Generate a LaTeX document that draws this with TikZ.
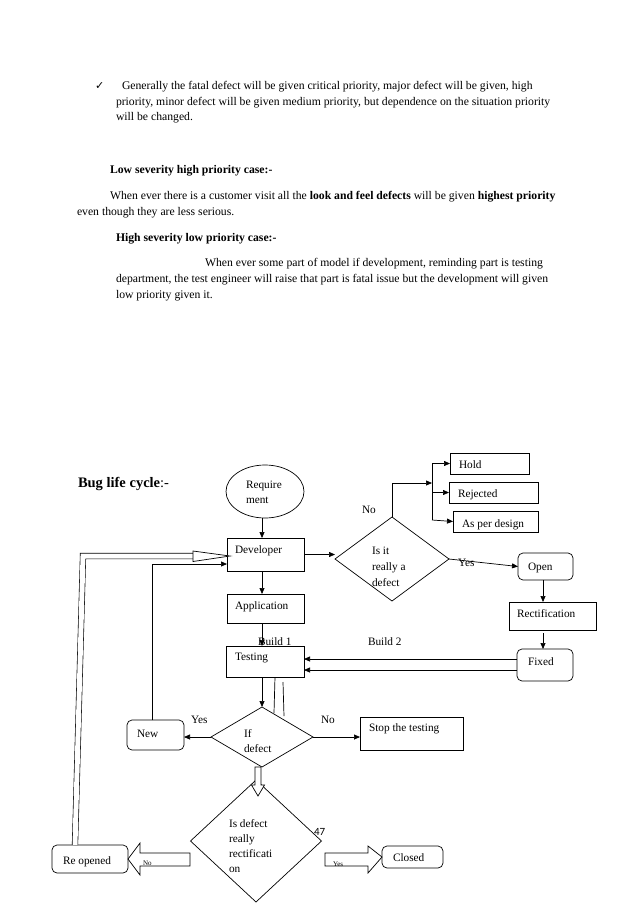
\documentclass[tikz,border=0pt]{standalone}
\usepackage{fontspec}
\setmainfont{Liberation Serif}
\newfontfamily\symfont{DejaVu Sans}
\newfontfamily\pagenumfont{Carlito}
\usetikzlibrary{shapes.geometric,arrows.meta}
\begin{document}
\begin{tikzpicture}[x=1pt,y=-1pt,
  every node/.style={inner sep=0pt, outer sep=0pt},
  body/.style={anchor=base west, font=\fontsize{11.7}{14}\selectfont},
  txt/.style={anchor=base west, font=\fontsize{11.3}{13}\selectfont},
  tiny/.style={anchor=base west, font=\fontsize{7}{8}\selectfont},
  box/.style={draw, line width=0.7pt},
  rbox/.style={box, rounded corners=5pt},
  dia/.style={draw, line width=0.7pt, diamond},
  arr/.style={line width=0.7pt, -{Triangle[length=6pt,width=5pt]}},
  ln/.style={line width=0.7pt},
  blk/.style={draw, line width=0.7pt, fill=white, line join=miter},
]
\fill[white] (0,0) rectangle (638,903);
\useasboundingbox (0,0) rectangle (638,903);

% ---------- body text ----------
\node[body] (ck) at (95,89) {{\symfont\fontsize{11}{12}\selectfont ✓}};
\node[body] (l1) at (122,89) {Generally the fatal defect will be given critical priority, major defect will be given, high};
\node[body] (l2) at (116,105) {priority, minor defect will be given medium priority, but dependence on the situation priority};
\node[body] (l3) at (116,120) {will be changed.};
\node[body] (h1) at (110,173) {\textbf{Low severity high priority case:-}};
\node[body] (l4) at (110,199) {When ever there is a customer visit all the \textbf{look and feel defects} will be given \textbf{highest priority}};
\node[body] (l5) at (77,215) {even though they are less serious.};
\node[body] (h2) at (116,241) {\textbf{High severity low priority case:-}};
\node[body] (l6) at (205,266) {When ever some part of model if development, reminding part is testing};
\node[body] (l7) at (116,282) {department, the test engineer will raise that part is fatal issue but the development will given};
\node[body] (l8) at (116,298) {low priority given it.};

\node[anchor=base west, font=\fontsize{14.5}{16}\selectfont] (title) at (78,487) {\textbf{Bug life cycle}:-};

% ---------- shapes ----------
\node[draw, line width=0.7pt, ellipse, minimum width=78pt, minimum height=53pt] (req) at (265,491.5) {};
\node[box, minimum width=77pt, minimum height=33pt] (dev) at (265.5,554.5) {};
\node[box, minimum width=77pt, minimum height=29pt] (app) at (265.5,608.5) {};
\node[box, minimum width=78pt, minimum height=31pt] (test) at (265,661.5) {};
\node[dia, minimum width=102pt, minimum height=60pt] (ifd) at (262,737) {};
\node[rbox, minimum width=57pt, minimum height=30pt] (new) at (155.5,735) {};
\node[box, minimum width=103pt, minimum height=33pt] (stop) at (411.5,733.5) {};
\node[dia, minimum width=114pt, minimum height=84pt] (isit) at (392,559) {};
\node[box, minimum width=79pt, minimum height=21pt] (hold) at (489.5,463.5) {};
\node[box, minimum width=89pt, minimum height=21pt] (rej) at (493.5,492.5) {};
\node[box, minimum width=85pt, minimum height=21pt] (apd) at (495.5,521.5) {};
\node[rbox, minimum width=55pt, minimum height=27pt] (open) at (545.5,566.5) {};
\node[box, minimum width=87pt, minimum height=28pt] (rect) at (552.5,616) {};
\node[rbox, minimum width=56pt, minimum height=32pt] (fixed) at (545,665) {};
\node[dia, minimum width=131pt, minimum height=122pt] (isdef) at (256,841) {};
\node[rbox, minimum width=76pt, minimum height=28pt] (reop) at (90,859) {};
\node[rbox, minimum width=61pt, minimum height=22pt] (closed) at (412.5,857) {};

% ---------- labels ----------
\node[txt] at (246,488) {Require};
\node[txt] at (246,503) {ment};
\node[txt] at (235,553) {Developer};
\node[txt] at (235,609) {Application};
\node[txt] at (235,660) {Testing};
\node[txt] at (258,645) {Build 1};
\node[txt] at (368,645) {Build 2};
\node[txt] at (244,737) {If};
\node[txt] at (244,752) {defect};
\node[txt] at (137,737) {New};
\node[txt] at (191,723) {Yes};
\node[txt] at (321,723) {No};
\node[txt] at (369,731) {Stop the testing};
\node[txt] at (372,554) {Is it};
\node[txt] at (372,570) {really a};
\node[txt] at (372,586) {defect};
\node[txt] at (362,513) {No};
\node[txt] at (459,468) {Hold};
\node[txt] at (458,497) {Rejected};
\node[txt] at (462,527) {As per design};
\node[txt] at (458,566) {Yes};
\node[txt] at (528,570) {Open};
\node[txt] at (517,617) {Rectification};
\node[txt] at (528,665) {Fixed};
\node[txt] at (229,827) {Is defect};
\node[txt] at (229,842) {really};
\node[txt] at (229,857) {rectificati};
\node[txt] at (229,872) {on};
\node[txt] at (63,864) {Re opened};
\node[txt] at (393,861) {Closed};
\node[anchor=base west, font=\pagenumfont\fontsize{11}{12}\selectfont] at (314,835) {47};

% ---------- connectors ----------
\coordinate (col) at (262,0);
\coordinate (rcol) at (543,0);
\coordinate (br) at (432,483);
\coordinate (brb) at (432,520);
\draw[arr] (req.south -| col) -- (dev.north -| col);
\draw[arr] (dev.south -| col) -- (app.north -| col);
\draw[arr] (app.south -| col) -- (test.north -| col);
\draw[arr] (test.south -| col) -- (ifd.north);
\draw[arr] (dev.east) -- (dev.east -| isit.west);
\draw[arr] (isit.north) |- (br);
\draw[ln] (br |- hold.west) -- (brb);
\draw[arr] (br |- hold.west) -- (hold.west);
\draw[arr] (br |- rej.west) -- (rej.west);
\draw[arr] (brb) -- (apd.west);
\draw[arr] (isit.east) -- (open.west);
\draw[arr] (open.south -| rcol) -- (rect.north -| rcol);
\draw[arr] ([yshift=-3pt]rect.south -| rcol) -- (fixed.north -| rcol);
\draw[arr] ([yshift=6pt]fixed.west) -- ([yshift=6pt]fixed.west -| test.east);
\draw[arr] ([yshift=-5pt]fixed.west) -- ([yshift=-5pt]fixed.west -| test.east);
\draw[arr] (ifd.west) -- (ifd.west -| new.east);
\draw[arr] ([xshift=-3.5pt]new.north) |- ([yshift=-9.5pt]dev.west);
\draw[arr] (ifd.east) -- (ifd.east -| stop.west);
\draw[ln] ([xshift=10pt]test.south) -- ++(-1,36);
\draw[ln] ([xshift=18pt,yshift=-5pt]test.south) -- ++(1,34);

% hollow block arrows
\draw[blk] (255,767) -- (255,785) -- (251.5,785) -- (258,796) -- (264.5,785) -- (261,785) -- (261,767) -- cycle;
\draw[blk] (190,853) -- (140,853) -- (140,843) -- (reop.east) -- (140,875) -- (140,866) -- (190,866) -- cycle;
\draw[blk] (325,853) -- (368,853) -- (368,846) -- (closed.west) -- (368,873) -- (368,866) -- (325,866) -- cycle;
\node[tiny] at (143,865) {No};
\node[tiny] at (333,866) {Yes};

% re-opened double connector back to developer
\draw[line width=0.6pt, double, double distance=5pt] ([xshift=-15pt]reop.north) -- (83,556) -- (196,556);
\draw[blk] (193,551) -- ([xshift=3pt,yshift=-1.5pt]dev.west) -- (193,561.5) -- cycle;
\end{tikzpicture}
\end{document}
